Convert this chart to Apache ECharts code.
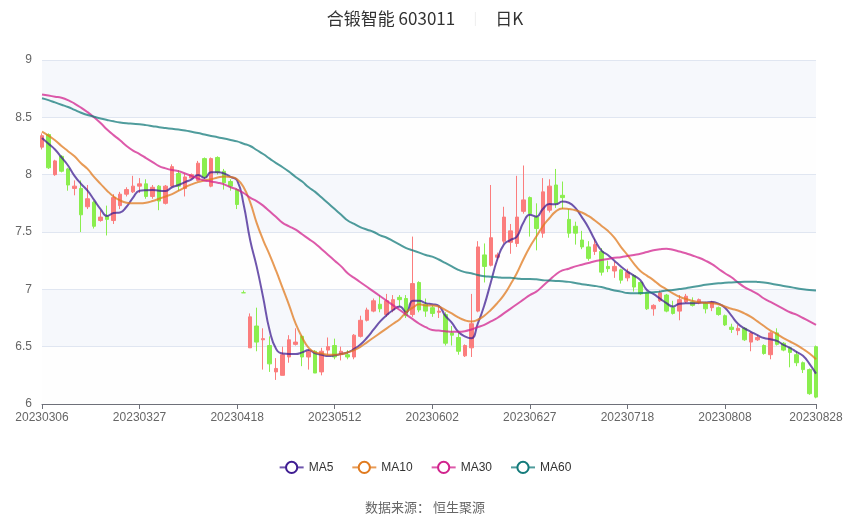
<!DOCTYPE html>
<html>
<head>
<meta charset="utf-8">
<script src="https://cdn.jsdelivr.net/npm/echarts@6/dist/echarts.min.js"></script>
<style>html,body{margin:0;padding:0;background:#fff;}#c{width:850px;height:517px;}</style>
</head>
<body>
<div id="c"></div>
<script>
const dates = [
'20230306','20230307','20230308','20230309','20230310','20230313','20230314','20230315','20230316','20230317','20230320','20230321','20230322','20230323','20230324','20230327','20230328','20230329','20230330','20230331',
'20230403','20230404','20230406','20230407','20230410','20230411','20230412','20230413','20230414','20230417','20230418','20230419','20230420','20230421','20230424','20230425','20230426','20230427','20230428',
'20230504','20230505','20230508','20230509','20230510','20230511','20230512','20230515','20230516','20230517','20230518','20230519','20230522','20230523','20230524','20230525','20230526','20230529','20230530','20230531',
'20230601','20230602','20230605','20230606','20230607','20230608','20230609','20230612','20230613','20230614','20230615','20230616','20230619','20230620','20230621','20230626','20230627','20230628','20230629','20230630',
'20230703','20230704','20230705','20230706','20230707','20230710','20230711','20230712','20230713','20230714','20230717','20230718','20230719','20230720','20230721','20230724','20230725','20230726','20230727','20230728','20230731',
'20230801','20230802','20230803','20230804','20230807','20230808','20230809','20230810','20230811','20230814','20230815','20230816','20230817','20230818','20230821','20230822','20230823','20230824','20230825','20230828'
];
// [open, close, low, high]
const ohlc = [
[8.24,8.34,8.22,8.36],[8.35,8.06,8.05,8.36],[8.00,8.12,7.99,8.13],[8.16,8.03,8.02,8.17],[8.05,7.91,7.86,8.06],
[7.88,7.90,7.82,7.95],[7.88,7.65,7.50,7.95],[7.72,7.79,7.70,7.91],[7.76,7.55,7.53,7.77],[7.60,7.63,7.59,7.69],
[7.64,7.61,7.47,7.73],[7.60,7.80,7.57,7.83],[7.73,7.83,7.70,7.85],[7.83,7.87,7.81,7.89],[7.85,7.90,7.84,7.99],
[7.90,7.92,7.84,7.97],[7.92,7.81,7.79,7.96],[7.81,7.89,7.79,7.91],[7.90,7.77,7.69,7.91],[7.75,7.90,7.74,7.91],
[7.90,8.07,7.89,8.09],[8.01,7.90,7.86,8.04],[7.88,7.98,7.81,8.01],[7.97,8.00,7.96,8.01],[7.95,8.10,7.94,8.12],
[8.14,7.98,7.96,8.15],[7.90,8.14,7.89,8.15],[8.15,8.02,8.00,8.16],[8.03,7.93,7.87,8.05],[7.94,7.90,7.86,7.96],
[7.87,7.74,7.70,7.88],[6.97,6.97,6.97,6.99],[6.49,6.76,6.49,6.79],[6.68,6.54,6.46,6.84],[6.56,6.57,6.30,6.66],
[6.51,6.35,6.28,6.59],[6.28,6.31,6.21,6.40],[6.25,6.43,6.25,6.50],[6.41,6.56,6.36,6.60],[6.52,6.54,6.51,6.66],
[6.59,6.41,6.33,6.60],[6.41,6.46,6.30,6.47],[6.46,6.27,6.27,6.47],[6.28,6.46,6.25,6.49],[6.47,6.50,6.43,6.58],
[6.51,6.41,6.39,6.57],[6.43,6.46,6.38,6.50],[6.43,6.41,6.39,6.47],[6.41,6.60,6.39,6.61],[6.59,6.73,6.58,6.77],
[6.73,6.82,6.72,6.84],[6.81,6.90,6.80,6.92],[6.87,6.83,6.80,6.95],[6.78,6.90,6.76,6.96],[6.82,6.91,6.80,6.95],
[6.93,6.91,6.85,6.95],[6.92,6.77,6.75,6.95],[6.78,7.05,6.76,7.46],[7.06,6.82,6.80,7.07],[6.87,6.81,6.76,6.92],
[6.84,6.79,6.76,6.86],[6.80,6.81,6.75,6.85],[6.78,6.53,6.51,6.80],[6.62,6.60,6.51,6.68],[6.58,6.46,6.43,6.62],
[6.42,6.51,6.41,6.52],[6.49,6.70,6.41,6.96],[6.81,7.37,6.80,7.42],[7.30,7.20,7.06,7.40],[7.21,7.45,7.20,7.91],
[7.28,7.30,7.26,7.32],[7.42,7.63,7.40,7.72],[7.41,7.51,7.31,7.57],[7.40,7.63,7.37,7.99],[7.68,7.78,7.66,8.08],
[7.80,7.66,7.46,7.81],[7.63,7.53,7.34,7.75],[7.49,7.85,7.45,7.97],[7.69,7.90,7.67,7.96],[7.91,7.75,7.71,8.05],
[7.82,7.80,7.70,7.94],[7.61,7.49,7.45,7.70],[7.55,7.49,7.39,7.59],[7.43,7.37,7.35,7.51],[7.37,7.27,7.25,7.42],
[7.33,7.39,7.30,7.44],[7.33,7.15,7.12,7.36],[7.20,7.18,7.15,7.25],[7.16,7.20,7.10,7.24],[7.17,7.08,7.05,7.18],
[7.10,7.15,7.07,7.18],[7.12,7.02,6.98,7.13],[7.06,6.96,6.95,7.07],[6.97,6.83,6.82,6.98],[6.83,6.86,6.77,6.87],
[6.90,6.97,6.89,6.99],[6.95,6.81,6.80,6.96],[6.84,6.79,6.78,6.90],[6.81,6.91,6.73,6.95],[6.89,6.94,6.88,6.96],
[6.89,6.86,6.85,6.93],[6.88,6.91,6.87,6.92],[6.88,6.83,6.79,6.89],[6.84,6.89,6.81,6.90],[6.84,6.78,6.77,6.85],
[6.77,6.69,6.68,6.78],[6.67,6.65,6.62,6.70],[6.64,6.66,6.60,6.69],[6.66,6.56,6.55,6.67],[6.54,6.62,6.46,6.63],
[6.56,6.58,6.55,6.60],[6.51,6.44,6.43,6.52],[6.43,6.62,6.39,6.63],[6.62,6.52,6.51,6.66],[6.53,6.47,6.46,6.54],
[6.49,6.45,6.32,6.50],[6.43,6.36,6.33,6.46],[6.36,6.30,6.27,6.37],[6.30,6.09,6.08,6.31],[6.50,6.06,6.05,6.51]
];
const ma5 = [8.32,8.27,8.22,8.15,8.08,7.99,7.92,7.86,7.78,7.70,7.64,7.665,7.67,7.72,7.80,7.86,7.865,7.866,7.86,7.858,
7.89,7.91,7.935,7.96,7.997,7.97,8.02,8.02,8.01,7.98,7.95,7.74,7.43,7.20,6.93,6.64,6.48,6.44,6.436,6.436,
6.45,6.47,6.442,6.43,6.418,6.425,6.437,6.45,6.48,6.52,6.58,6.65,6.72,6.776,6.82,6.85,6.80,6.90,6.90,6.88,
6.87,6.856,6.77,6.71,6.63,6.59,6.573,6.70,6.86,7.06,7.26,7.39,7.43,7.46,7.58,7.65,7.634,7.70,7.744,7.742,
7.765,7.755,7.71,7.63,7.54,7.43,7.34,7.30,7.25,7.20,7.155,7.12,7.08,6.994,6.96,6.92,6.88,6.85,6.875,6.878,
6.878,6.883,6.886,6.89,6.875,6.84,6.77,6.70,6.66,6.63,6.60,6.575,6.565,6.55,6.515,6.49,6.455,6.42,6.35,6.265];
const ma10 = [8.375,8.34,8.30,8.25,8.205,8.16,8.10,8.05,7.98,7.92,7.86,7.81,7.775,7.755,7.75,7.75,7.755,7.77,7.79,7.81,
7.83,7.86,7.89,7.915,7.935,7.95,7.96,7.975,7.985,7.98,7.96,7.89,7.76,7.58,7.43,7.30,7.16,7.01,6.86,6.70,
6.58,6.49,6.45,6.44,6.43,6.43,6.435,6.45,6.47,6.50,6.54,6.58,6.62,6.66,6.70,6.74,6.80,6.84,6.87,6.86,
6.86,6.85,6.82,6.79,6.755,6.73,6.72,6.735,6.77,6.82,6.88,6.95,7.04,7.14,7.26,7.37,7.46,7.55,7.62,7.68,
7.705,7.70,7.69,7.67,7.64,7.60,7.555,7.51,7.45,7.37,7.30,7.225,7.16,7.12,7.08,7.035,7.00,6.965,6.935,6.915,
6.90,6.888,6.882,6.878,6.87,6.85,6.83,6.815,6.79,6.76,6.72,6.68,6.64,6.61,6.575,6.545,6.515,6.48,6.44,6.39];
const ma30 = [8.70,8.69,8.68,8.67,8.65,8.62,8.585,8.545,8.50,8.45,8.394,8.345,8.30,8.25,8.21,8.18,8.145,8.11,8.075,8.055,
8.04,8.03,8.01,7.99,7.965,7.95,7.94,7.93,7.915,7.89,7.87,7.84,7.80,7.77,7.73,7.68,7.63,7.58,7.55,7.52,
7.48,7.44,7.40,7.35,7.30,7.25,7.20,7.14,7.10,7.06,7.02,6.98,6.94,6.90,6.86,6.82,6.78,6.74,6.70,6.67,
6.645,6.64,6.635,6.63,6.63,6.635,6.65,6.67,6.69,6.72,6.75,6.79,6.83,6.87,6.91,6.95,6.98,7.03,7.08,7.13,
7.165,7.18,7.20,7.215,7.23,7.245,7.255,7.265,7.275,7.28,7.29,7.30,7.31,7.325,7.34,7.35,7.355,7.345,7.33,7.315,
7.295,7.275,7.25,7.22,7.18,7.14,7.105,7.06,7.02,6.99,6.96,6.92,6.89,6.86,6.83,6.80,6.78,6.75,6.72,6.69];
const ma60 = [8.666,8.65,8.63,8.61,8.59,8.565,8.54,8.52,8.505,8.49,8.477,8.465,8.455,8.448,8.444,8.44,8.432,8.423,8.414,8.407,
8.40,8.393,8.386,8.375,8.363,8.35,8.338,8.327,8.315,8.303,8.29,8.27,8.25,8.215,8.18,8.14,8.10,8.065,8.025,7.98,
7.94,7.89,7.85,7.80,7.75,7.70,7.65,7.60,7.57,7.54,7.52,7.50,7.47,7.45,7.42,7.39,7.36,7.34,7.32,7.30,
7.285,7.26,7.23,7.20,7.17,7.15,7.14,7.125,7.115,7.11,7.105,7.10,7.10,7.095,7.09,7.09,7.087,7.08,7.077,7.073,
7.07,7.065,7.055,7.045,7.037,7.03,7.02,7.005,6.99,6.98,6.967,6.965,6.967,6.97,6.975,6.98,6.99,6.995,7.003,7.01,
7.02,7.03,7.04,7.047,7.053,7.057,7.06,7.063,7.066,7.067,7.065,7.06,7.05,7.04,7.03,7.02,7.01,7.00,6.995,6.99];
const yTicks = [6, 6.5, 7, 7.5, 8, 8.5, 9];

const chart = echarts.init(document.getElementById('c'), null, {renderer: 'canvas'});
const upColor = '#fb7d7d', downColor = '#8aee4e';
const lastIdx = dates.length - 1;
const showLabel = function (i) { return i % 15 === 0 || i === lastIdx; };
function maSeries(name, data, color) {
  return {name: name, type: 'line', data: data, smooth: true, showSymbol: false, symbol: 'emptyCircle', symbolSize: 8,
    itemStyle: {color: color}, lineStyle: {width: 2, color: color, opacity: 0.75}, z: 3};
}
chart.setOption({
  animation: false,
  backgroundColor: '#fff',
  title: {
    text: '合锻智能 603011{sep|｜}日K', left: 'center', top: 5,
    textStyle: {fontSize: 17, fontWeight: 'normal', color: '#333', fontFamily: 'Noto Sans CJK SC',
      rich: {sep: {color: '#e6e6e6', fontSize: 14, padding: [0, 13, 0, 13]}}}
  },
  legend: {
    bottom: 38, left: 'center', itemWidth: 24, itemHeight: 14, itemGap: 18,
    textStyle: {color: '#333', fontSize: 12},
    data: ['MA5', 'MA10', 'MA30', 'MA60']
  },
  graphic: [{type: 'text', left: 'center', bottom: 3,
    style: {text: '数据来源： 恒生聚源', fill: '#666', fontSize: 13, fontFamily: 'Noto Sans CJK SC'}}],
  grid: {left: 42, right: 34, top: 60, bottom: 113},
  xAxis: {
    type: 'category', data: dates, boundaryGap: false,
    axisLine: {lineStyle: {color: '#6E7079'}},
    axisTick: {show: true, interval: showLabel},
    axisLabel: {interval: showLabel, color: '#666', fontSize: 12, margin: 8}
  },
  yAxis: {
    type: 'value', min: yTicks[0], max: yTicks[yTicks.length - 1], interval: 0.5, scale: true,
    axisLine: {show: false}, axisTick: {show: false},
    axisLabel: {color: '#666', fontSize: 12, margin: 10},
    splitLine: {lineStyle: {color: '#e0e6f1'}},
    splitArea: {show: true, areaStyle: {color: ['rgba(250,250,250,0.2)', 'rgba(210,219,238,0.2)']}}
  },
  series: [
    {name: '日K', type: 'candlestick', data: ohlc, barWidth: 4,
      itemStyle: {color: upColor, color0: downColor, borderColor: upColor, borderColor0: downColor, borderWidth: 1}},
    maSeries('MA5', ma5, '#3f1d92'),
    maSeries('MA10', ma10, '#e07a1e'),
    maSeries('MA30', ma30, '#d1238d'),
    maSeries('MA60', ma60, '#147b7b')
  ]
});
</script>
</body>
</html>
